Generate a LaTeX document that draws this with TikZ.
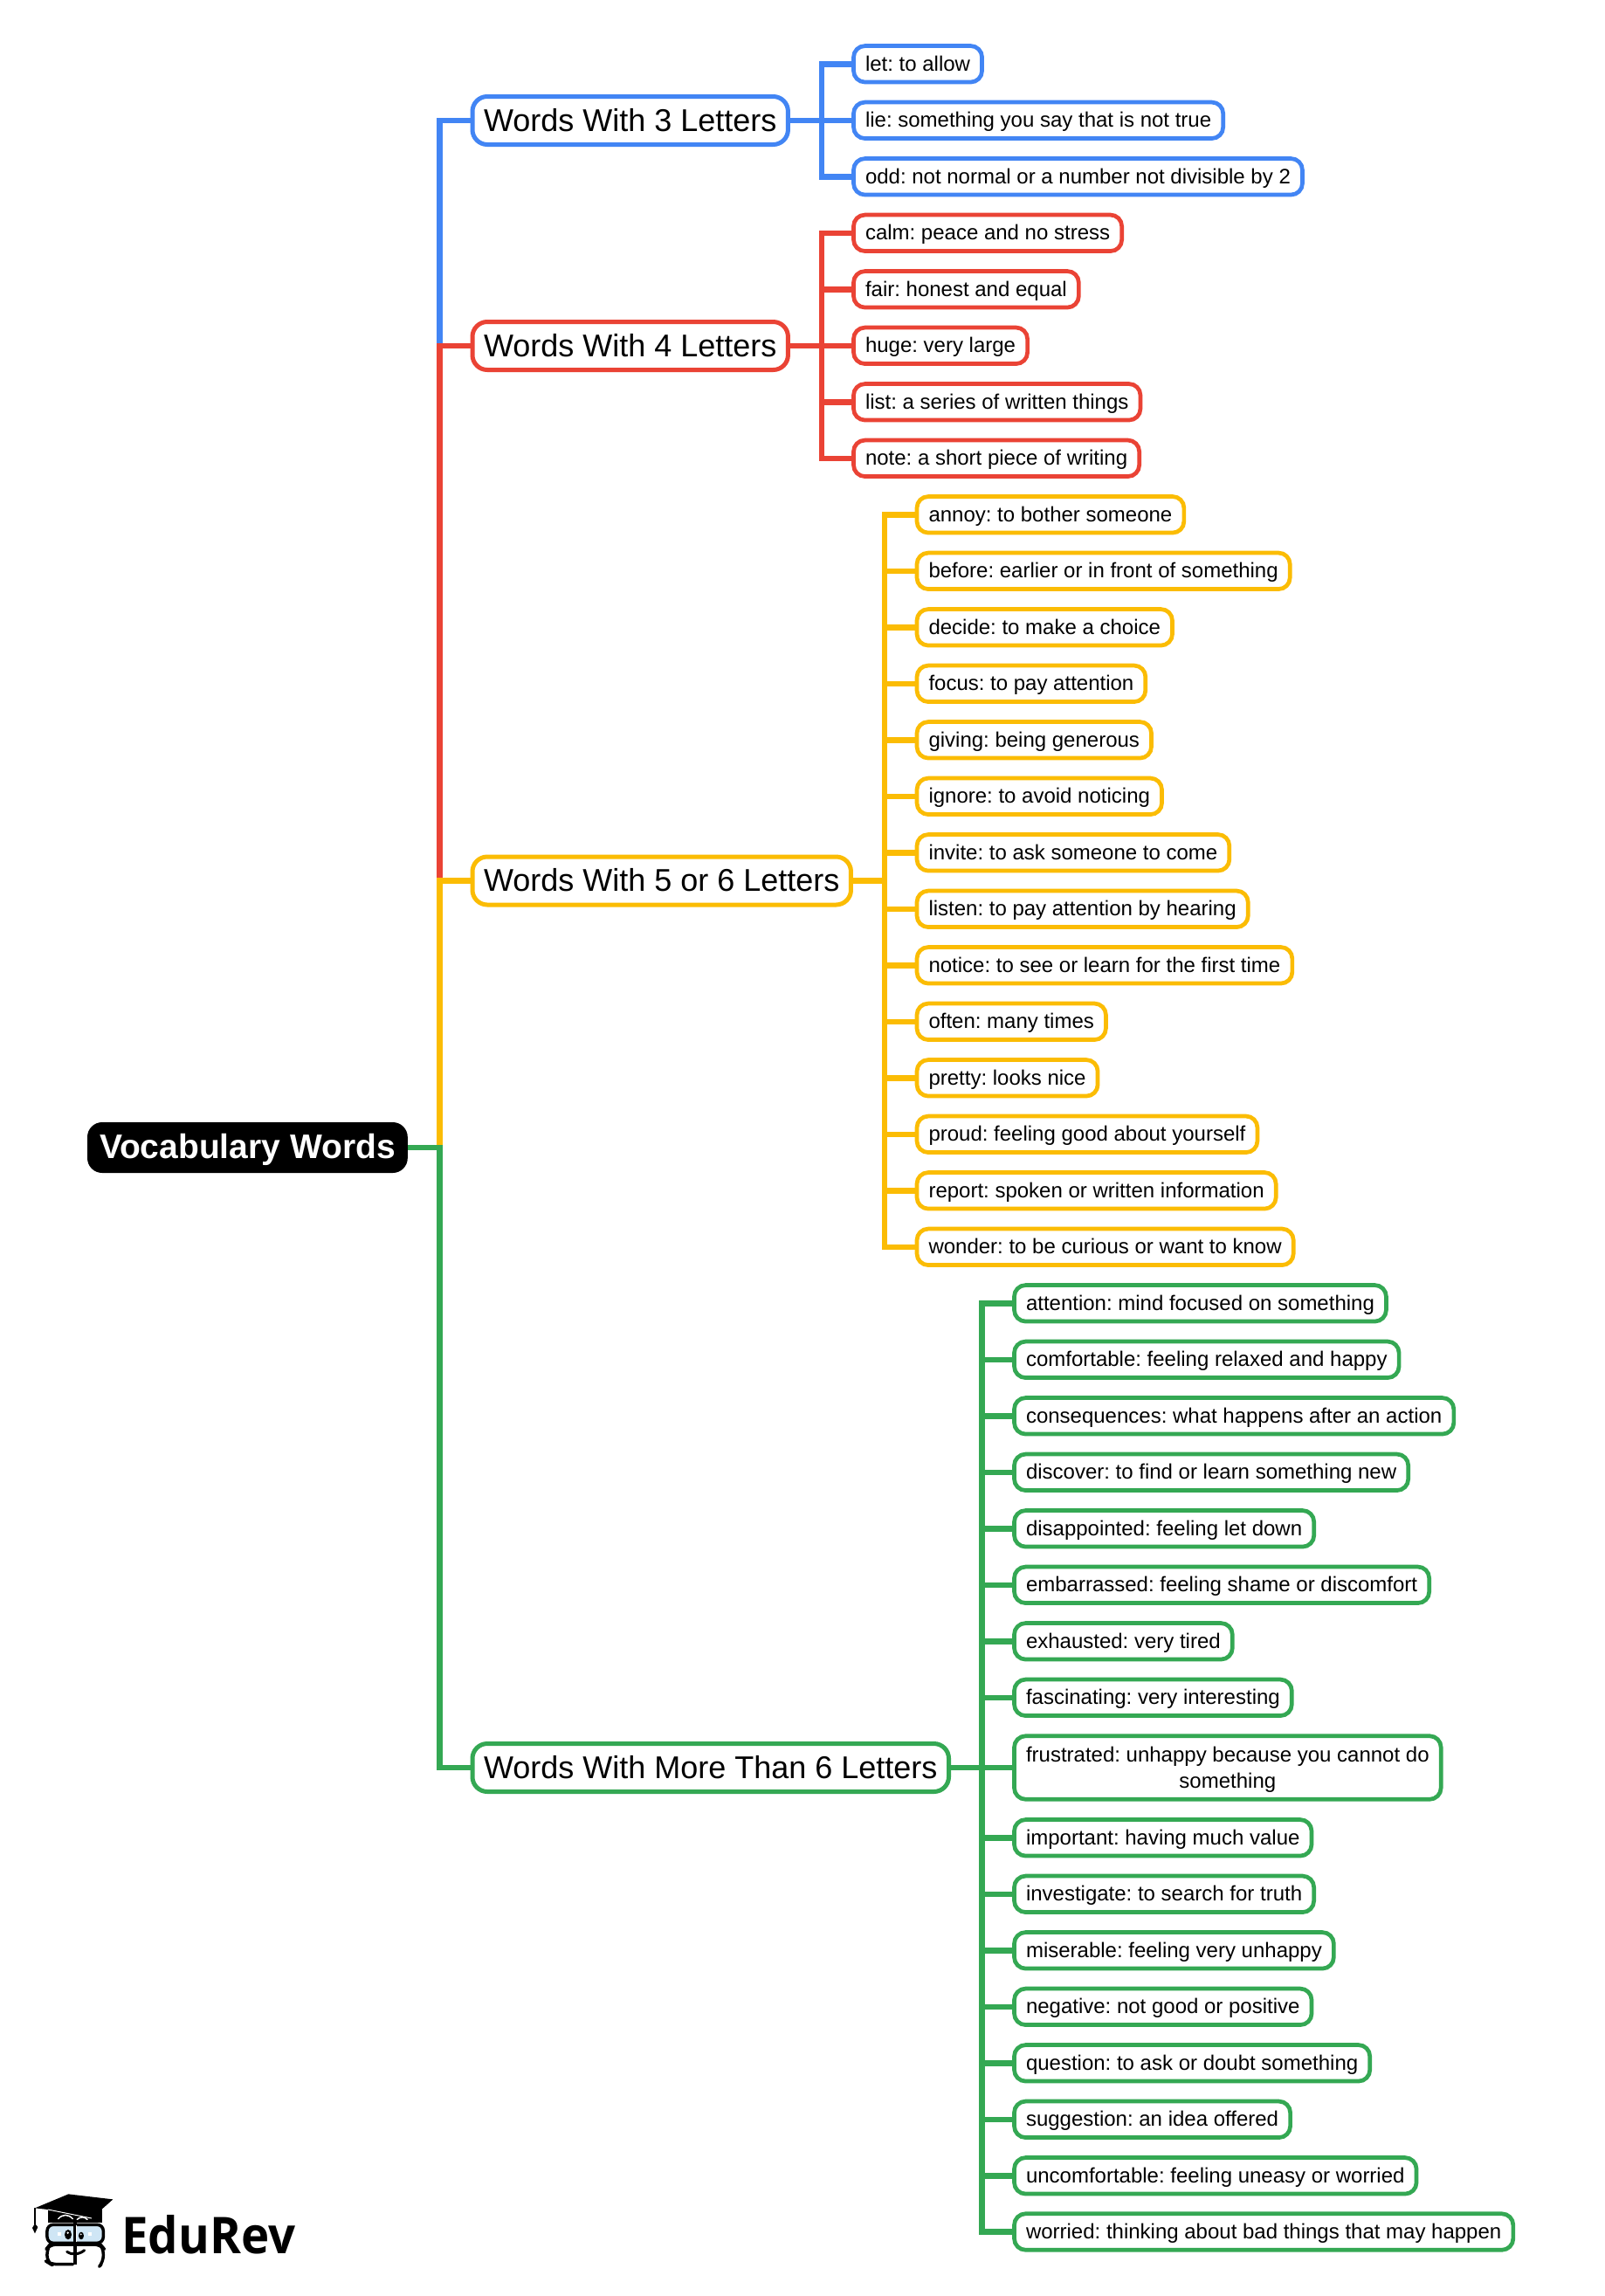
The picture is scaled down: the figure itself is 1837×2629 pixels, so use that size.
\documentclass[tikz,border=0pt]{standalone}
\usepackage{fontspec}
\setmainfont{Liberation Sans}
\newfontfamily\logofont[FakeStretch=0.94]{Open Sans}
\definecolor{cblue}{HTML}{4285F4}
\definecolor{cred}{HTML}{EA4335}
\definecolor{cyellow}{HTML}{FBBC04}
\definecolor{cgreen}{HTML}{34A853}
\definecolor{lens}{HTML}{CFE6F5}
\tikzset{
  leafbox/.style={draw,fill=white,line width=4.7pt,rounded corners=13pt,anchor=west,outer sep=0pt,
    inner xsep=13.5pt,inner ysep=0pt,font=\frenchspacing\fontsize{24}{30}\selectfont,text=black},
  oneline/.style={leafbox,minimum height=41.5pt,text height=21pt,text depth=5pt},
  twoline/.style={leafbox,minimum height=72.5pt,align=center},
  topicbox/.style={draw,fill=white,line width=5pt,rounded corners=17pt,anchor=west,outer sep=0pt,
    inner xsep=13pt,inner ysep=0pt,minimum height=55pt,text height=32pt,text depth=8pt,
    font=\frenchspacing\fontsize{36}{42}\selectfont,text=black},
  rootbox/.style={fill=black,rounded corners=17pt,anchor=west,outer sep=0pt,inner xsep=14pt,inner ysep=0pt,
    minimum height=58pt,text height=33pt,text depth=8pt,font=\frenchspacing\fontsize{39}{44}\bfseries\selectfont,text=white},
  conn/.style={line width=6.4pt,line join=miter},
  logoline/.style={line width=4.5pt,draw=black,line cap=round,line join=round}
}
% name, x, y, colour, bar coordinate, text
\newcommand\leafnode[6]{%
  \node[oneline,draw=#4] (#1) at (#2,#3) {#6};
  \draw[conn,draw=#4] (#5) |- (#1.west);
}
\begin{document}
\begin{tikzpicture}[x=1pt,y=-1pt]
\useasboundingbox (0,0) rectangle (1837,2629);
\fill[white] (0,0) rectangle (1837,2629);

\node[rootbox] (root) at (100,1314) {Vocabulary Words};
\node[topicbox,draw=cblue]   (g1) at (541,138)  {Words With 3 Letters};
\node[topicbox,draw=cred]    (g2) at (541,396)  {Words With 4 Letters};
\node[topicbox,draw=cyellow] (g3) at (541,1008.5) {Words With 5 or 6 Letters};
\node[topicbox,draw=cgreen]  (g4) at (541,2024) {Words With More Than 6 Letters};

\coordinate (trunk) at (503.5,1314);
\draw[conn,draw=cblue]   (trunk) |- (g1.west);
\draw[conn,draw=cred]    (trunk) |- (g2.west);
\draw[conn,draw=cyellow] (trunk) |- (g3.west);
\draw[conn,draw=cgreen]  (root.east) -- (trunk) |- (g4.west);

\coordinate (b1) at (941,138);
\coordinate (b2) at (941,396);
\coordinate (b3) at (1013,1008.5);
\coordinate (b4) at (1124.5,2024);
\draw[conn,draw=cblue]   (g1.east) -- (b1);
\draw[conn,draw=cred]    (g2.east) -- (b2);
\draw[conn,draw=cyellow] (g3.east) -- (b3);
\draw[conn,draw=cgreen]  (g4.east) -- (b4);

\leafnode{a1}{977.5}{73.3}{cblue}{b1}{let: to allow}
\leafnode{a2}{977.5}{137.8}{cblue}{b1}{lie: something you say that is not true}
\leafnode{a3}{977.5}{202.3}{cblue}{b1}{odd: not normal or a number not divisible by 2}

\leafnode{r1}{977.5}{266.8}{cred}{b2}{calm: peace and no stress}
\leafnode{r2}{977.5}{331.3}{cred}{b2}{fair: honest and equal}
\leafnode{r3}{977.5}{395.8}{cred}{b2}{huge: very large}
\leafnode{r4}{977.5}{460.3}{cred}{b2}{list: a series of written things}
\leafnode{r5}{977.5}{524.8}{cred}{b2}{note: a short piece of writing}

\leafnode{y1}{1050}{589.3}{cyellow}{b3}{annoy: to bother someone}
\leafnode{y2}{1050}{653.8}{cyellow}{b3}{before: earlier or in front of something}
\leafnode{y3}{1050}{718.3}{cyellow}{b3}{decide: to make a choice}
\leafnode{y4}{1050}{782.8}{cyellow}{b3}{focus: to pay attention}
\leafnode{y5}{1050}{847.3}{cyellow}{b3}{giving: being generous}
\leafnode{y6}{1050}{911.8}{cyellow}{b3}{ignore: to avoid noticing}
\leafnode{y7}{1050}{976.3}{cyellow}{b3}{invite: to ask someone to come}
\leafnode{y8}{1050}{1040.8}{cyellow}{b3}{listen: to pay attention by hearing}
\leafnode{y9}{1050}{1105.3}{cyellow}{b3}{notice: to see or learn for the first time}
\leafnode{y10}{1050}{1169.8}{cyellow}{b3}{often: many times}
\leafnode{y11}{1050}{1234.3}{cyellow}{b3}{pretty: looks nice}
\leafnode{y12}{1050}{1298.8}{cyellow}{b3}{proud: feeling good about yourself}
\leafnode{y13}{1050}{1363.3}{cyellow}{b3}{report: spoken or written information}
\leafnode{y14}{1050}{1427.8}{cyellow}{b3}{wonder: to be curious or want to know}

\leafnode{n1}{1161.5}{1492.3}{cgreen}{b4}{attention: mind focused on something}
\leafnode{n2}{1161.5}{1556.8}{cgreen}{b4}{comfortable: feeling relaxed and happy}
\leafnode{n3}{1161.5}{1621.3}{cgreen}{b4}{consequences: what happens after an action}
\leafnode{n4}{1161.5}{1685.8}{cgreen}{b4}{discover: to find or learn something new}
\leafnode{n5}{1161.5}{1750.3}{cgreen}{b4}{disappointed: feeling let down}
\leafnode{n6}{1161.5}{1814.8}{cgreen}{b4}{embarrassed: feeling shame or discomfort}
\leafnode{n7}{1161.5}{1879.3}{cgreen}{b4}{exhausted: very tired}
\leafnode{n8}{1161.5}{1943.8}{cgreen}{b4}{fascinating: very interesting}
\node[twoline,draw=cgreen] (n9) at (1161.5,2024) {\rule{0pt}{21pt}frustrated: unhappy because you cannot do\\something};
\draw[conn,draw=cgreen] (b4) -- (n9.west);
\leafnode{n10}{1161.5}{2104.3}{cgreen}{b4}{important: having much value}
\leafnode{n11}{1161.5}{2168.8}{cgreen}{b4}{investigate: to search for truth}
\leafnode{n12}{1161.5}{2233.3}{cgreen}{b4}{miserable: feeling very unhappy}
\leafnode{n13}{1161.5}{2297.8}{cgreen}{b4}{negative: not good or positive}
\leafnode{n14}{1161.5}{2362.3}{cgreen}{b4}{question: to ask or doubt something}
\leafnode{n15}{1161.5}{2426.8}{cgreen}{b4}{suggestion: an idea offered}
\leafnode{n16}{1161.5}{2491.3}{cgreen}{b4}{uncomfortable: feeling uneasy or worried}
\leafnode{n17}{1161.5}{2555.5}{cgreen}{b4}{worried: thinking about bad things that may happen}

% logo
\begin{scope}[shift={(0,2450)},x=0.3333pt,y=-0.3333pt]
  \fill[black] (165,240) -- (165,285) -- (350,285) -- (350,240) -- cycle;
  \fill[black] (120,235) -- (235,187) -- (388,205) -- (315,270) -- (165,240) -- cycle;
  \draw[white,line width=1pt] (165,240) -- (315,270);
  \draw[black,line width=1.5pt] (120,235) -- (120,292);
  \fill[black] (120,288) -- (111,303) -- (120,322) -- (130,300) -- cycle;
  \draw[white,line width=1.5pt,line cap=round] (200,272) .. controls (215,255) and (235,255) .. (250,272);
  \draw[white,line width=1.5pt,line cap=round] (265,274) .. controls (275,264) and (290,264) .. (300,274);
  \draw[logoline,line width=3.5pt,fill=lens,rounded corners=7pt] (162,292) rectangle (355,355);
  \draw[logoline,line width=3.5pt,rounded corners=7pt] (250,428) -- (175,428) -- (162,420) -- (162,372) -- (172,360) -- (345,360) -- (355,372) -- (355,420) -- (348,428);
  \draw[black,line width=4pt] (258,285) -- (258,430);
  \fill[white] (260,295) rectangle (265,352);
  \fill[black] (234,326) ellipse [x radius=12,y radius=17];
  \fill[black] (279,330) ellipse [x radius=9,y radius=13];
  \fill[white] (233,320) circle [radius=4];
  \fill[white] (278,325) circle [radius=3];
  \draw[logoline,line width=3pt] (230,385) .. controls (245,396) and (270,396) .. (290,380);
  \fill[white] (199,317) rectangle (211,329);
  \fill[white] (304,317) rectangle (316,329);
\end{scope}
\node[anchor=base west,inner sep=0pt,font=\logofont\fontsize{58}{60}\selectfont\bfseries,text=black] (brand) at (139,2580.5) {EduRev};
\end{tikzpicture}
\end{document}
